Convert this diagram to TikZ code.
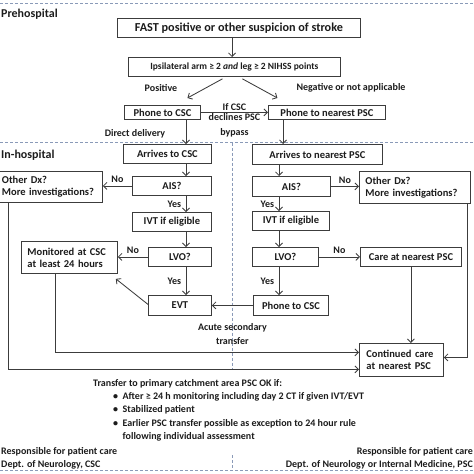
\documentclass[tikz,border=0pt]{standalone}
\usepackage{fontspec}
\setmainfont{Carlito}
\usetikzlibrary{arrows.meta}

\definecolor{boxline}{HTML}{3C3C3C}
\definecolor{zoneline}{HTML}{8A9AB8}
\definecolor{textcol}{HTML}{1C1C1C}

\tikzset{
	flowbox/.style={draw=boxline, line width=0.85pt, fill=white, text=textcol,
		font=\fontsize{10.5}{12}\selectfont\bfseries, inner sep=0pt, anchor=north west},
	notebox/.style={flowbox, align=left, inner xsep=6pt},
	flowarr/.style={draw=boxline, line width=0.85pt, -{Straight Barb[length=3.5pt, width=7pt]}},
	flowlbl/.style={text=textcol, font=\fontsize{10}{15}\selectfont\bfseries, inner sep=1.5pt},
	zone/.style={draw=zoneline, line width=0.6pt, dash pattern=on 3pt off 2pt},
	zonetitle/.style={text=textcol, font=\fontsize{12}{14}\selectfont\bfseries, inner sep=0pt, anchor=base west},
	foottext/.style={text=textcol, font=\fontsize{10}{13.3}\selectfont\bfseries, inner sep=0pt},
}

\begin{document}
\begin{tikzpicture}[x=1pt, y=-1pt]
	
	\useasboundingbox (0,0) rectangle (474,474);
	\clip (0,0) rectangle (474,474);
	
	% Zone lines
	\draw[zone] (0,3) -- (474,3);
	\draw[zone] (0,142.5) -- (474,142.5);
	\draw[zone] (232,142.5) -- (232,370);
	\draw[zone] (232,455) -- (232,470);
	\draw[zone] (0,470) -- (474,470);
	
	% Zone titles
	\node[zonetitle] (prehosp) at (1,17) {Prehospital};
	\node[zonetitle] (inhosp) at (1,158) {In-hospital};
	
	% Column positions of the vertical arrows
	\coordinate (colT) at (232,0);
	\coordinate (colL) at (186,0);
	\coordinate (colR) at (279,0);
	\coordinate (colRa) at (283,0);
	\coordinate (colO) at (8,0);
	\coordinate (colM) at (55,0);
	\coordinate (colX) at (467,0);
	
	% Prehospital boxes
	\node[flowbox, minimum width=243pt, minimum height=19pt, font=\fontsize{12.2}{14}\selectfont\bfseries]
	(fast) at (117,18) {FAST positive or other suspicion of stroke};
	\node[flowbox, minimum width=212pt, minimum height=19pt, font=\fontsize{9.5}{12}\selectfont\bfseries]
	(ipsi) at (128,57) {Ipsilateral arm ≥ 2 \textit{and} leg ≥ 2 NIHSS points};
	\node[flowbox, minimum width=76pt, minimum height=14pt] (phoneCSC) at (124,105) {Phone to CSC};
	\node[flowbox, minimum width=117pt, minimum height=14pt] (phonePSC) at (268,105) {Phone to nearest PSC};
	
	% CSC column
	\node[flowbox, minimum width=88pt, minimum height=19pt] (arrCSC) at (123,144) {Arrives to CSC};
	\node[flowbox, minimum width=79pt, minimum height=19pt] (aisCSC) at (132,176) {AIS?};
	\node[flowbox, minimum width=79pt, minimum height=19pt] (ivtCSC) at (132,212) {IVT if eligible};
	\node[flowbox, minimum width=63pt, minimum height=19pt] (lvoCSC) at (148,247) {LVO?};
	\node[flowbox, minimum width=63pt, minimum height=20pt] (evt) at (148,295) {EVT};
	\node[notebox, text width=95pt, inner xsep=5.5pt, minimum height=31pt] (dxCSC) at (-4,171)
	{Other Dx?\\More investigations?};
	\node[notebox, text width=84pt, minimum height=32pt] (monCSC) at (21,241)
	{Monitored at CSC\\at least 24 hours};
	
	% PSC column
	\node[flowbox, minimum width=130pt, minimum height=20pt] (arrPSC) at (252,144) {Arrives to nearest PSC};
	\node[flowbox, minimum width=78pt, minimum height=20pt] (aisPSC) at (252,176) {AIS?};
	\node[flowbox, minimum width=77pt, minimum height=19pt] (ivtPSC) at (252,211) {IVT if eligible};
	\node[flowbox, minimum width=66pt, minimum height=19pt] (lvoPSC) at (252,247) {LVO?};
	\node[flowbox, minimum width=75pt, minimum height=20pt] (phoneCSCb) at (253,295) {Phone to CSC};
	\node[flowbox, minimum width=101pt, minimum height=19pt] (carePSC) at (360,247) {Care at nearest PSC};
	\node[notebox, text width=99pt, minimum height=32pt] (dxPSC) at (359,171)
	{Other Dx?\\More investigations?};
	\node[notebox, text width=70pt, inner xsep=7pt, minimum height=33pt] (contPSC) at (359,343)
	{Continued care\\at nearest PSC};
	
	% Prehospital arrows
	\draw[flowarr] (fast.south -| colT) -- (ipsi.north -| colT);
	\draw[flowarr] ([xshift=-12pt, yshift=-2pt]ipsi.south) -- ([xshift=25pt, yshift=7pt]phoneCSC.north);
	\draw[flowarr] ([xshift=8pt, yshift=-2pt]ipsi.south) -- ([xshift=-49.5pt, yshift=7pt]phonePSC.north);
	\node[flowlbl] (lblPos) at (161,88) {Positive};
	\node[flowlbl] (lblNeg) at (351,88) {Negative or not applicable};
	\draw[flowarr] (phoneCSC.east) -- (phonePSC.west)
	node[midway, above, flowlbl] {If CSC}
	node[midway, below, flowlbl, align=center, yshift=1pt] {declines PSC\\bypass};
	\draw[flowarr] (phoneCSC.south -| colL) -- (arrCSC.north -| colL);
	\node[flowlbl] (lblDirect) at (135,134) {Direct delivery};
	\draw[flowarr] (phonePSC.south -| colRa) -- (arrPSC.north -| colRa);
	
	% CSC arrows
	\draw[flowarr] (arrCSC.south -| colL) -- (aisCSC.north -| colL);
	\draw[flowarr] (aisCSC.south -| colL) -- (ivtCSC.north -| colL) node[midway, left=3pt, flowlbl] {Yes};
	\draw[flowarr] (ivtCSC.south -| colL) -- (lvoCSC.north -| colL);
	\draw[flowarr] (lvoCSC.south -| colL) -- (evt.north -| colL) node[midway, left=3pt, flowlbl] {Yes};
	\draw[flowarr] (aisCSC.west) -- (dxCSC.east |- aisCSC.west) node[midway, above=1pt, flowlbl] {No};
	\draw[flowarr] (lvoCSC.west) -- (monCSC.east |- lvoCSC.west) node[midway, above=1pt, flowlbl] {No};
	\draw[flowarr] ([yshift=1pt]evt.west) -- ([xshift=-2pt, yshift=-5pt]monCSC.south east);
	
	% PSC arrows
	\draw[flowarr] (arrPSC.south -| colR) -- (aisPSC.north -| colR);
	\draw[flowarr] (aisPSC.south -| colR) -- (ivtPSC.north -| colR) node[midway, left=3pt, flowlbl] {Yes};
	\draw[flowarr] (ivtPSC.south -| colR) -- (lvoPSC.north -| colR);
	\draw[flowarr] (lvoPSC.south -| colR) -- (phoneCSCb.north -| colR) node[midway, left=3pt, flowlbl] {Yes};
	\draw[flowarr] (aisPSC.east) -- (dxPSC.west |- aisPSC.east) node[midway, above=1pt, flowlbl] {No};
	\draw[flowarr] (lvoPSC.east) -- (carePSC.west |- lvoPSC.east) node[midway, above=1pt, flowlbl] {No};
	\draw[flowarr] (phoneCSCb.west) -- (evt.east)
	node[midway, below=16pt, flowlbl, align=center, font=\fontsize{10}{14}\selectfont\bfseries] {Acute secondary\\transfer};
	\draw[flowarr] (carePSC.south) -- (carePSC.south |- contPSC.north);
	
	% Lines to continued care
	\draw[flowarr] (dxCSC.south -| colO) |- ([yshift=-9.5pt]contPSC.west);
	\draw[flowarr] (monCSC.south -| colM) |- ([yshift=7.5pt]contPSC.west);
	\draw[flowarr] (dxPSC.south -| colX) |- ([yshift=2.5pt]contPSC.east);
	
	% Transfer conditions
	\node[foottext, anchor=base west] (okHead) at (93,386.5) {Transfer to primary catchment area PSC OK if:};
	\node[foottext, anchor=north west] (okList) at (113,390) {%
		\begin{tabular}{@{}l@{\hspace{4.5pt}}l@{}}
			\textbullet & After ≥ 24 h monitoring including day 2 CT if given IVT/EVT\\
			\textbullet & Stabilized patient\\
			\textbullet & Earlier PSC transfer possible as exception to 24 hour rule\\
			& following individual assessment
		\end{tabular}};
	
	% Responsibility
	\node[foottext, anchor=north west, align=left] (respCSC) at (1,447)
	{Responsible for patient care\\Dept. of Neurology, CSC};
	\node[foottext, anchor=north east, align=right] (respPSC) at (473,447)
	{Responsible for patient care\\Dept. of Neurology or Internal Medicine, PSC};
	
\end{tikzpicture}
\end{document}
